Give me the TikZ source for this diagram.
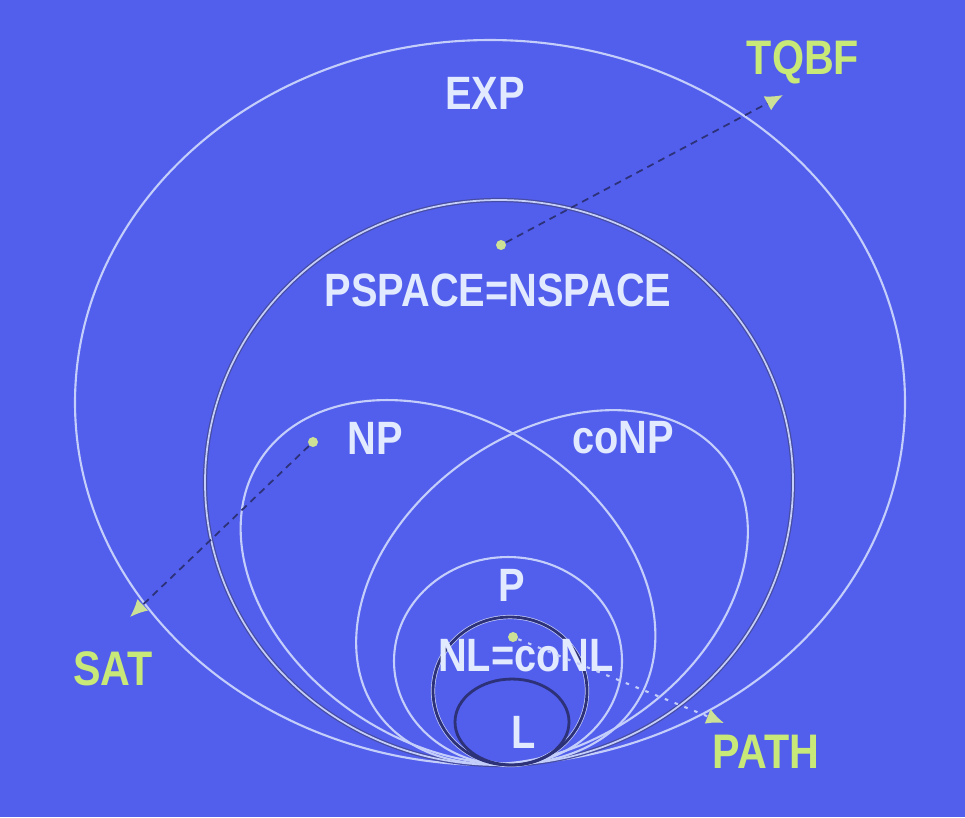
\documentclass[tikz,border=0pt]{standalone}
\usepackage{fontspec}
\setmainfont[FakeStretch=0.85]{Liberation Sans}
\usetikzlibrary{arrows.meta}
\definecolor{bg}{RGB}{82,94,236}
\definecolor{ringc}{RGB}{196,206,250}
\definecolor{darkc}{RGB}{45,50,120}
\definecolor{midc}{RGB}{70,76,160}
\definecolor{txtc}{RGB}{226,234,255}
\definecolor{grnc}{RGB}{200,232,120}
\definecolor{dotc}{RGB}{205,225,150}
\begin{document}
\begin{tikzpicture}[x=0.01cm,y=-0.01cm,
  ring/.style={draw=ringc, line width=0.6pt},
  darkring/.style={draw=darkc, line width=0.8pt},
  lbl/.style={text=txtc, font=\bfseries\fontsize{13.3}{15}\selectfont, inner sep=0pt},
  glbl/.style={text=grnc, font=\bfseries\fontsize{13.8}{15}\selectfont, inner sep=0pt},
  dotn/.style={circle, fill=dotc, inner sep=0pt, minimum size=0.1cm},
  conn/.style={draw=darkc, dashed, dash pattern=on 2pt off 1.5pt, line width=0.5pt, -{Latex[length=5pt,width=4.5pt,color=dotc]}},
  lconn/.style={draw=ringc, dash pattern=on 1pt off 2pt, line width=0.6pt, -{Latex[length=5pt,width=4.5pt,color=dotc]}}
]
\useasboundingbox (0,0) rectangle (965,817);
\fill[bg] (0,0) rectangle (965,817);

% EXP
\draw[ring] (490,402.5) ellipse [x radius=415, y radius=362.5];
% PSPACE
\draw[midc, line width=1.2pt] (499,482.5) ellipse [x radius=294, y radius=282.5];
\draw[ring, line width=0.5pt] (499,482.5) ellipse [x radius=294, y radius=282.5];
% NP
\begin{scope}[shift={(448,582)}, rotate=-33]
\draw[ring] (0,0) ellipse [x radius=224, y radius=161];
\end{scope}
% coNP
\begin{scope}[shift={(552,587)}, rotate=36]
\draw[ring] (0,0) ellipse [x radius=215, y radius=153];
\end{scope}
% P
\draw[ring] (508,661) ellipse [x radius=114, y radius=104];
% NL
\draw[ring, line width=1.2pt] (510,691) ellipse [x radius=77, y radius=74];
\draw[darkring] (510,691) ellipse [x radius=77, y radius=74];
% L
\draw[darkring] (512,722) ellipse [x radius=57, y radius=43];

% labels
\node[lbl] (exp) at (485,93) {EXP};
\node[lbl] (pspace) at (498,290) {PSPACE=NSPACE};
\node[lbl] (np) at (375,438) {NP};
\node[lbl] (conp) at (623,438) {coNP};
\node[lbl] (p) at (512,585) {P};
\node[lbl] (nl) at (526,656) {NL=coNL};
\node[lbl] (l) at (524,732) {L};
\node[glbl] (tqbf) at (803,62) {TQBF};
\node[glbl] (sat) at (113,669) {SAT};
\node[glbl] (path) at (766,752) {PATH};

% dots
\node[dotn] (psdot) at (501,245) {};
\node[dotn] (npdot) at (313,442) {};
\node[dotn] (nldot) at (513,637) {};
\coordinate (tqbftip) at (783,95);
\coordinate (sattip) at (130,617);
\coordinate (pathtip) at (724,723);

\draw[conn] (psdot) -- (tqbftip);
\draw[conn] (npdot) -- (sattip);
\draw[lconn] (nldot) -- (pathtip);
\end{tikzpicture}
\end{document}
